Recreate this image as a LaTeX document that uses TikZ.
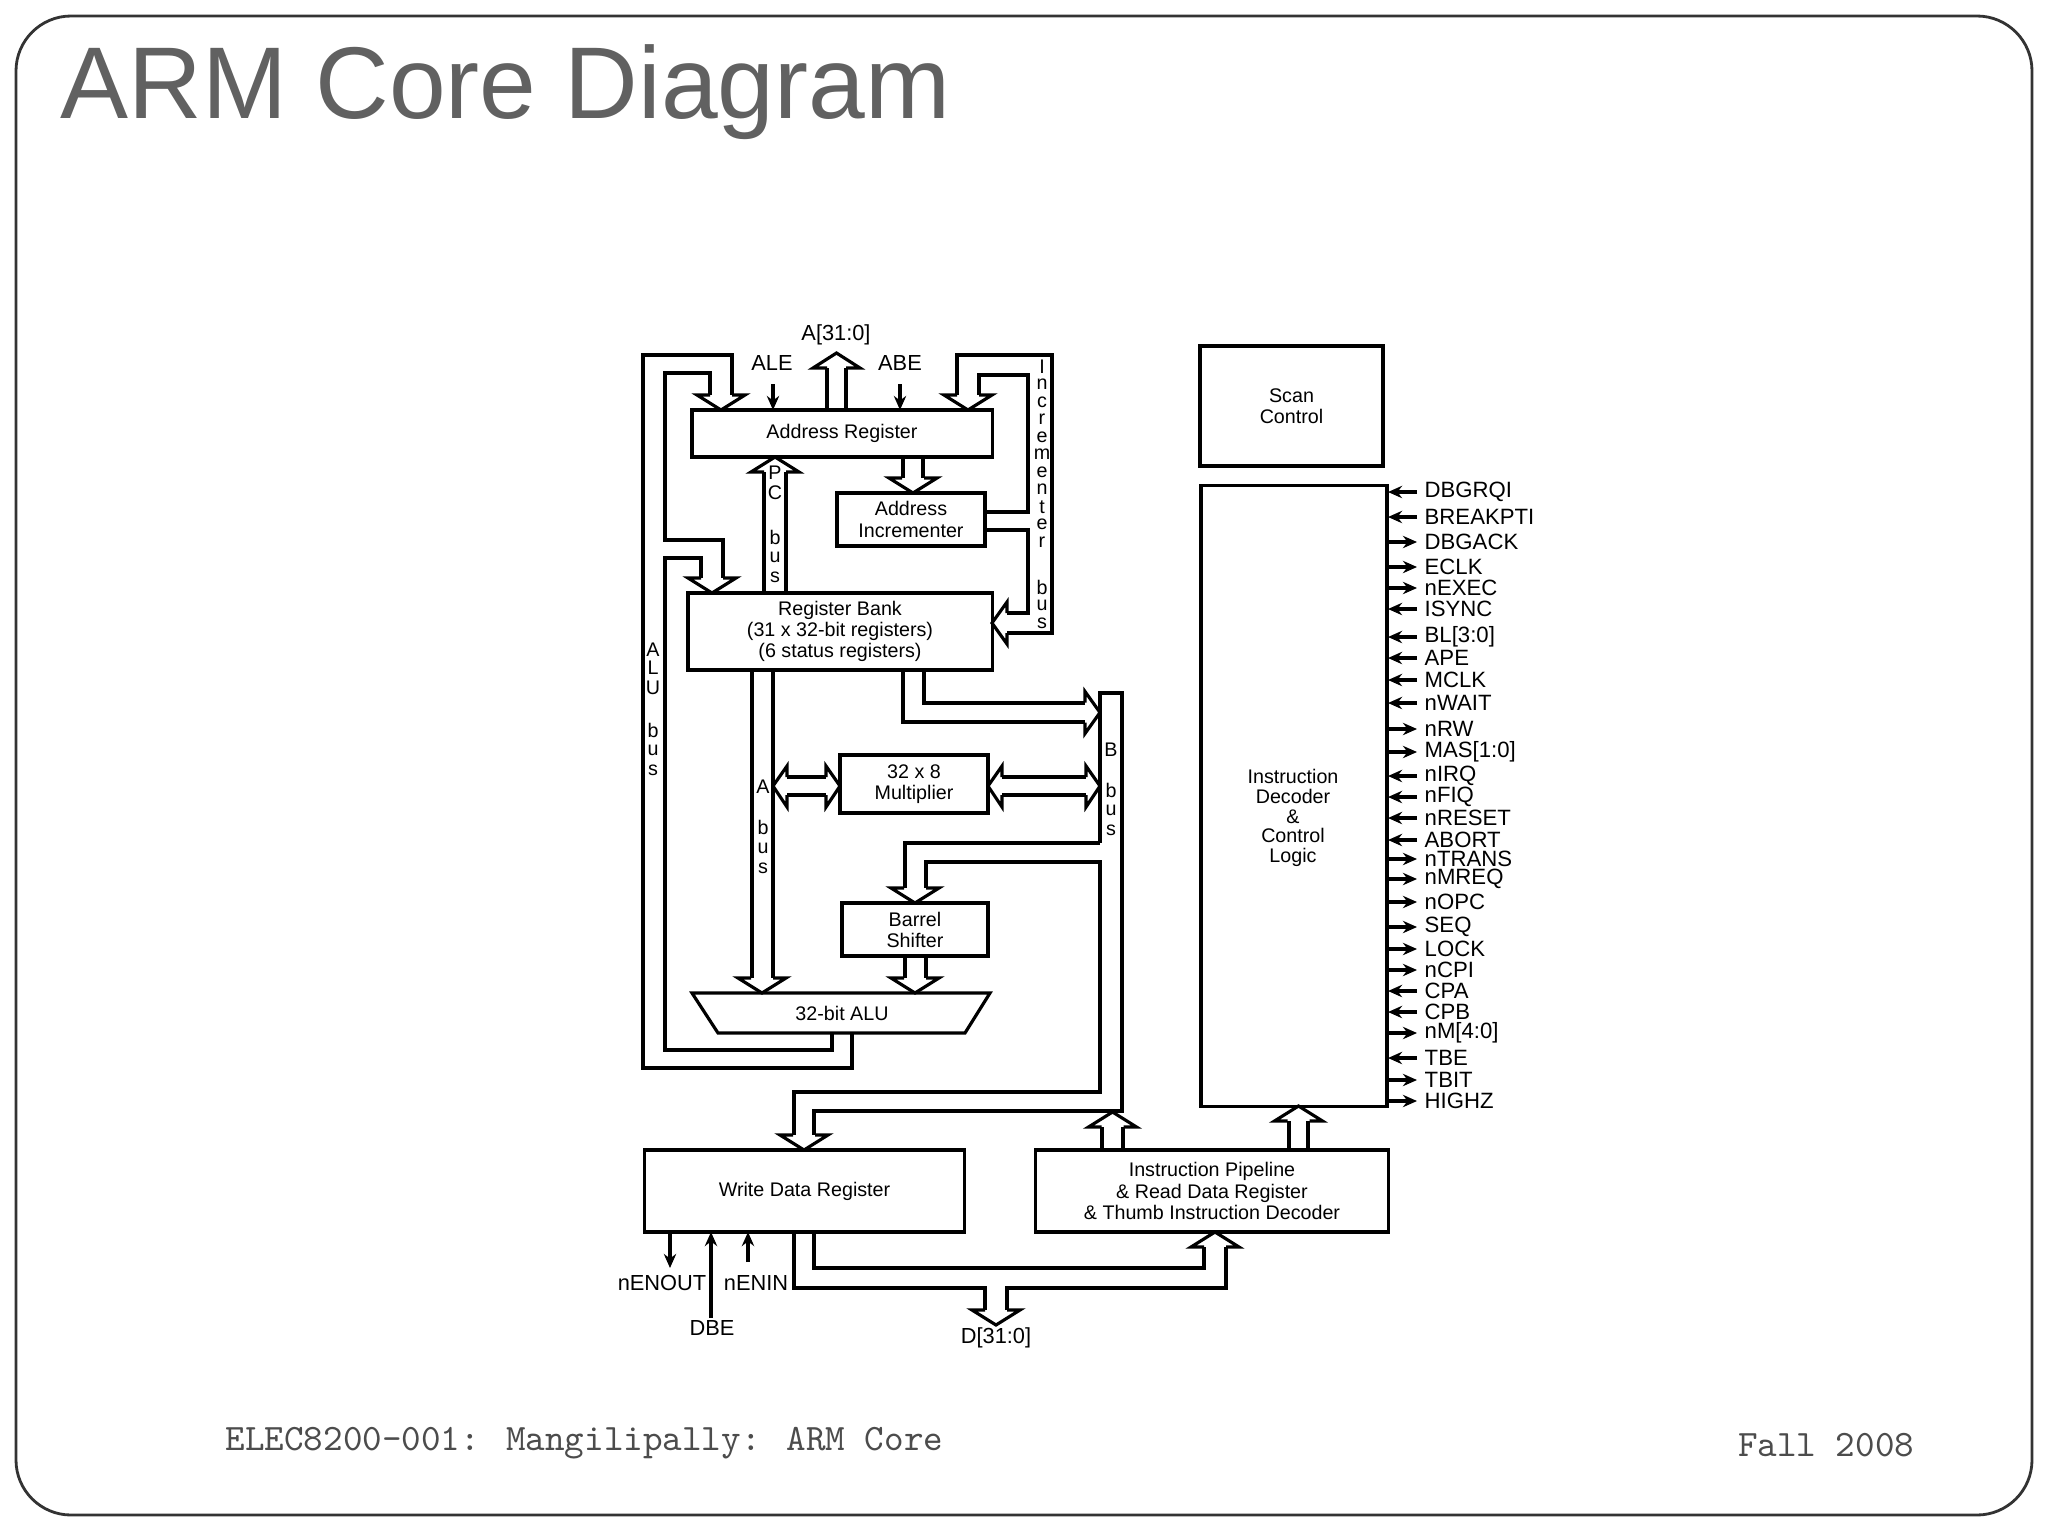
\documentclass[tikz,border=0pt]{standalone}
\usepackage{fontspec}
\setmainfont{Liberation Sans}
\usetikzlibrary{arrows.meta}
\tikzset{
  bl/.style={line width=0.9pt, line join=miter},
  box/.style={draw, line width=0.9pt, inner sep=0pt, font=\fontsize{5.6}{6.0}\selectfont, align=center},
  lbl/.style={inner sep=0pt, font=\fontsize{5.6}{6.0}\selectfont},
  sig/.style={inner sep=0pt, anchor=west, font=\fontsize{6.3}{7}\selectfont},
  sarr/.style={line width=0.9pt, -{Stealth[length=4pt,width=3.5pt]}}
}
% hollow bus heads: tip at (#1,#2)
\newcommand\hdDown[2]{\draw[bl] (#1-11,#2-15) -- (#1-24,#2-15) -- (#1,#2) -- (#1+24,#2-15) -- (#1+11,#2-15);}
\newcommand\hdUp[2]{\draw[bl] (#1-11,#2+15) -- (#1-24,#2+15) -- (#1,#2) -- (#1+24,#2+15) -- (#1+11,#2+15);}
\newcommand\hdLeft[2]{\draw[bl] (#1+15,#2-10) -- (#1+15,#2-21) -- (#1,#2) -- (#1+15,#2+21) -- (#1+15,#2+10);}
\newcommand\hdRight[2]{\draw[bl] (#1-15,#2-10) -- (#1-15,#2-21) -- (#1,#2) -- (#1-15,#2+21) -- (#1-15,#2+10);}
\begin{document}
\begin{tikzpicture}[x=0.01cm,y=-0.01cm]
\useasboundingbox (0,0) rectangle (2048,1536);
\draw[line width=0.8pt, black!80, rounded corners=0.55cm] (16,16) rectangle (2032,1515);

% title and footer
\node[anchor=base west, inner sep=0pt, text=black!62, font=\fontsize{29}{33}\selectfont] (title) at (60,118) {ARM Core Diagram};
\node[anchor=base west, inner sep=0pt, text=black!70, font=\fontsize{10.6}{12}\ttfamily] (foot) at (225,1450) {ELEC8200-001: Mangilipally: ARM Core};
\node[anchor=base east, inner sep=0pt, text=black!70, font=\fontsize{10.6}{12}\ttfamily] (fall) at (1915,1456) {Fall 2008};

% blocks
\node[box, minimum width=3.00cm, minimum height=0.47cm] (ar) at (842,433.5) {Address Register};
\node[box, minimum width=1.48cm, minimum height=0.53cm] (ai) at (911,519.5) {Address\\Incrementer};
\node[box, minimum width=3.04cm, minimum height=0.77cm] (rb) at (840,631.5) {Register Bank\\(31 x 32-bit registers)\\(6 status registers)};
\node[box, minimum width=1.48cm, minimum height=0.58cm] (mul) at (914,784) {32 x 8\\Multiplier};
\node[box, minimum width=1.46cm, minimum height=0.53cm] (bs) at (915,929.5) {Barrel\\Shifter};
\node[box, minimum width=3.19cm, minimum height=0.82cm] (wdr) at (804.5,1191) {Write Data Register};
\node[box, minimum width=3.52cm, minimum height=0.82cm] (ip) at (1212,1191) {Instruction Pipeline\\\& Read Data Register\\\& Thumb Instruction Decoder};
\node[box, minimum width=1.83cm, minimum height=1.20cm] (sc) at (1291.5,406) {Scan\\Control};
\node[box, minimum width=1.86cm, minimum height=6.20cm] (id) at (1294,796) {};
\node[lbl, align=center, font=\fontsize{5.6}{5.6}\selectfont] (idt) at (1293,818) {Instruction\\Decoder\\\&\\Control\\Logic};
\draw[bl] (692,993) -- (990,993) -- (965,1033) -- (718,1033) -- cycle;
\node[lbl] (alu) at (842,1013) {32-bit ALU};

% ALU bus
\draw[bl] (852,1033) -- (852,1068) -- (643,1068) -- (643,355) -- (732,355) -- (732,395);
\draw[bl] (832,1033) -- (832,1050) -- (665,1050) -- (665,558) -- (701,558) -- (701,578);
\draw[bl] (710,395) -- (710,373) -- (665,373) -- (665,540) -- (723,540) -- (723,578);
\hdDown{721}{410}
\hdDown{712}{593}
\foreach \c/\y in {A/650,L/668,U/688,b/730,u/750,s/770} \node[lbl] at (653,\y) {\c};

% incrementer bus
\draw[bl] (957,395) -- (957,355) -- (1052,355) -- (1052,633) -- (1007,633);
\draw[bl] (979,395) -- (979,375) -- (1028,375) -- (1028,512) -- (ai.east |- 0,512);
\draw[bl] (ai.east |- 0,530) -- (1028,530) -- (1028,613) -- (1007,613);
\hdDown{968}{410}
\hdLeft{992}{623}
\foreach \c [count=\i] in {I,n,c,r,e,m,e,n,t,e,r} \node[lbl] at (1042,{367+(\i-1)*17.5}) {\c};
\foreach \c/\y in {b/587,u/605,s/623} \node[lbl] at (1042,\y) {\c};

% address register to incrementer
\draw[bl] (903,457) -- (903,478);
\draw[bl] (923,457) -- (923,478);
\hdDown{913}{493}

% PC bus
\draw[bl] (764,593) -- (764,472);
\draw[bl] (786,593) -- (786,472);
\hdUp{775}{457}
\foreach \c/\y in {P/473,C/493,b/537,u/557,s/577} \node[lbl] at (775,\y) {\c};

% address out, ALE, ABE
\draw[bl] (827,410) -- (827,368);
\draw[bl] (846,410) -- (846,368);
\draw[bl] (827,368) -- (813,368) -- (836.5,353) -- (860,368) -- (846,368);
\node[lbl, font=\fontsize{6.2}{7}\selectfont] (a31) at (836,335) {A[31:0]};
\node[lbl, font=\fontsize{6.2}{7}\selectfont] (ale) at (772,363) {ALE};
\node[lbl, font=\fontsize{6.2}{7}\selectfont] (abe) at (900,363) {ABE};
\draw[sarr] (773,384) -- (773,410);
\draw[sarr] (900,384) -- (900,410);

% A bus
\draw[bl] (752,670) -- (752,978);
\draw[bl] (773,670) -- (773,978);
\hdDown{762}{993}
\foreach \c/\y in {A/787,b/827,u/848,s/868} \node[lbl] at (763,\y) {\c};

% register bank to B bus
\draw[bl] (924,670) -- (924,703) -- (1085,703);
\draw[bl] (903,670) -- (903,722) -- (1085,722);
\hdRight{1100}{712.5}

% B bus
\draw[bl] (1100,843) -- (1100,693) -- (1122,693) -- (1122,1111) -- (814,1111) -- (814,1135);
\draw[bl] (1100,843) -- (905,843) -- (905,888);
\draw[bl] (926,888) -- (926,862) -- (1100,862) -- (1100,1092) -- (794,1092) -- (794,1135);
\hdDown{915}{903}
\hdDown{804}{1150}
\foreach \c/\y in {B/750,b/790,u/810,s/830} \node[lbl] at (1111,\y) {\c};

% multiplier links
\foreach \a/\b in {773/840, 988/1100} {
  \draw[bl] (\a+14,777) -- (\b-14,777);
  \draw[bl] (\a+14,795) -- (\b-14,795);
  \draw[bl] (\a+14,777) -- (\a+14,766) -- (\a,786) -- (\a+14,807) -- (\a+14,795);
  \draw[bl] (\b-14,777) -- (\b-14,766) -- (\b,786) -- (\b-14,807) -- (\b-14,795);
}

% shifter to ALU
\draw[bl] (905,956) -- (905,978);
\draw[bl] (926,956) -- (926,978);
\hdDown{915}{993}

% pipeline to B bus and decoder
\draw[bl] (1102,1150) -- (1102,1127);
\draw[bl] (1123,1150) -- (1123,1127);
\hdUp{1112.5}{1112}
\draw[bl] (1289,1150) -- (1289,1121);
\draw[bl] (1308,1150) -- (1308,1121);
\hdUp{1298.5}{1106}

% data bus
\draw[bl] (794,1232) -- (794,1288) -- (985,1288) -- (985,1310);
\draw[bl] (1007,1310) -- (1007,1288) -- (1226,1288) -- (1226,1247);
\draw[bl] (814,1232) -- (814,1268) -- (1204,1268) -- (1204,1247);
\hdDown{996}{1325}
\hdUp{1215}{1232}
\node[lbl, font=\fontsize{6.2}{7}\selectfont] (d31) at (996,1338) {D[31:0]};

% write data register control
\draw[sarr] (670,1232) -- (670,1268);
\draw[sarr] (711,1318) -- (711,1232);
\draw[sarr] (748,1262) -- (748,1232);
\node[lbl, font=\fontsize{6.2}{7}\selectfont] (nenout) at (662,1283) {nENOUT};
\node[lbl, font=\fontsize{6.2}{7}\selectfont] (nenin) at (756,1283) {nENIN};
\node[lbl, font=\fontsize{6.2}{7}\selectfont] (dbe) at (712,1328) {DBE};

% decoder signals (i = in, o = out)
\foreach \y/\s/\d in {492/DBGRQI/i, 517/BREAKPTI/i, 542/DBGACK/o, 567/ECLK/o, 588/nEXEC/o,
  609/ISYNC/i, 637/{BL[3:0]}/i, 658/APE/i, 680/MCLK/i, 703/nWAIT/i, 729/nRW/o,
  752/{MAS[1:0]}/o, 776/nIRQ/i, 797/nFIQ/i, 818/nRESET/i, 840/ABORT/i, 859/nTRANS/o,
  879/nMREQ/o, 902/nOPC/o, 927/SEQ/o, 949/LOCK/o, 970/nCPI/o, 991/CPA/i, 1012/CPB/i,
  1033/{nM[4:0]}/o, 1058/TBE/i, 1080/TBIT/o, 1101/HIGHZ/o} {
  \if\d i
    \draw[sarr] (1417,\y) -- (1388,\y);
  \else
    \draw[sarr] (1388,\y) -- (1417,\y);
  \fi
  \node[sig] at (1424,\y) {\s};
}
\end{tikzpicture}
\end{document}
